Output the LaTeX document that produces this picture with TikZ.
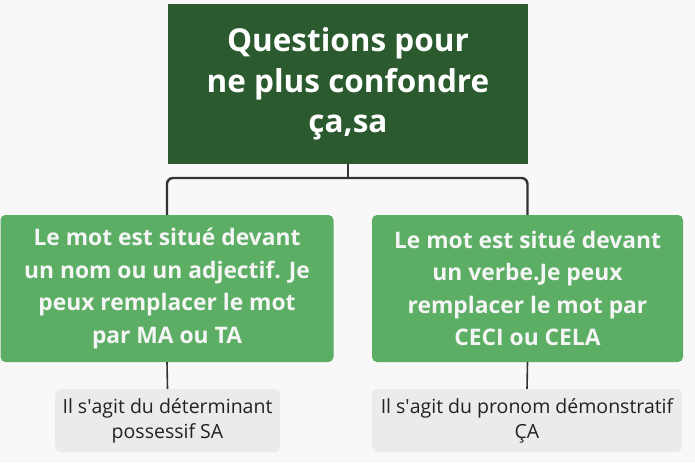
\documentclass[tikz,border=0pt]{standalone}
\usepackage{fontspec}
\setmainfont{Open Sans}
\usepackage{xcolor}
\definecolor{pagebg}{HTML}{F8F8F8}
\definecolor{rootgreen}{HTML}{2B5A2F}
\definecolor{childgreen}{HTML}{5BAE64}
\definecolor{leafgray}{HTML}{EBEBEB}
\definecolor{linegray}{HTML}{333333}
\definecolor{leaftext}{HTML}{222222}
\begin{document}
\begin{tikzpicture}[x=1pt,y=-1pt,
    rootbox/.style={fill=rootgreen, text=white, align=center, inner sep=0pt,
      minimum width=360pt, minimum height=160pt,
      font=\fontsize{31.5}{40.5}\selectfont\bfseries},
    childbox/.style={fill=childgreen, text=white!96!black, align=center, inner sep=0pt,
      rounded corners=5pt, minimum height=147pt,
      font=\fontsize{22.8}{32.5}\selectfont\bfseries},
    leafbox/.style={fill=leafgray, text=leaftext, align=center, inner sep=0pt,
      rounded corners=6pt, minimum height=63pt,
      font=\fontsize{19.5}{25}\selectfont},
    conn/.style={draw=linegray, line width=2.4pt}]
    % Background of the whole page
    \fill[pagebg] (0,0) rectangle (695,463);
    \useasboundingbox (0,0) rectangle (695,463);

    % Central question
    \node[rootbox] (root) at (348,84) {Questions pour\\ne plus confondre\\ça,sa};

    % The two cases
    \node[childbox, minimum width=333pt] (sa) at (167,288.5)
      {Le mot est situé devant\\un nom ou un adjectif. Je\\peux remplacer le mot\\par MA ou TA};
    \node[childbox, minimum width=311pt] (ca) at (527.5,288.5)
      {Le mot est situé devant\\un verbe.Je peux\\remplacer le mot par\\CECI ou CELA};

    % The answers
    \node[leafbox, minimum width=225pt] (saleaf) at (167.5,420.5)
      {Il s\textquotesingle agit du déterminant\\possessif SA};
    \node[leafbox, minimum width=310pt] (caleaf) at (527,420.5)
      {Il s\textquotesingle agit du pronom démonstratif\\ÇA};

    % Connectors
    \coordinate (split) at (348,178);
    \draw[conn] (root.south) -- (split);
    \draw[conn, rounded corners=6pt] (sa.north) |- (split) -| (ca.north);
    \draw[conn, line width=1.6pt] (sa.south) -- (saleaf.north);
    \draw[conn, line width=1.6pt] (ca.south) -- (caleaf.north);
\end{tikzpicture}
\end{document}
